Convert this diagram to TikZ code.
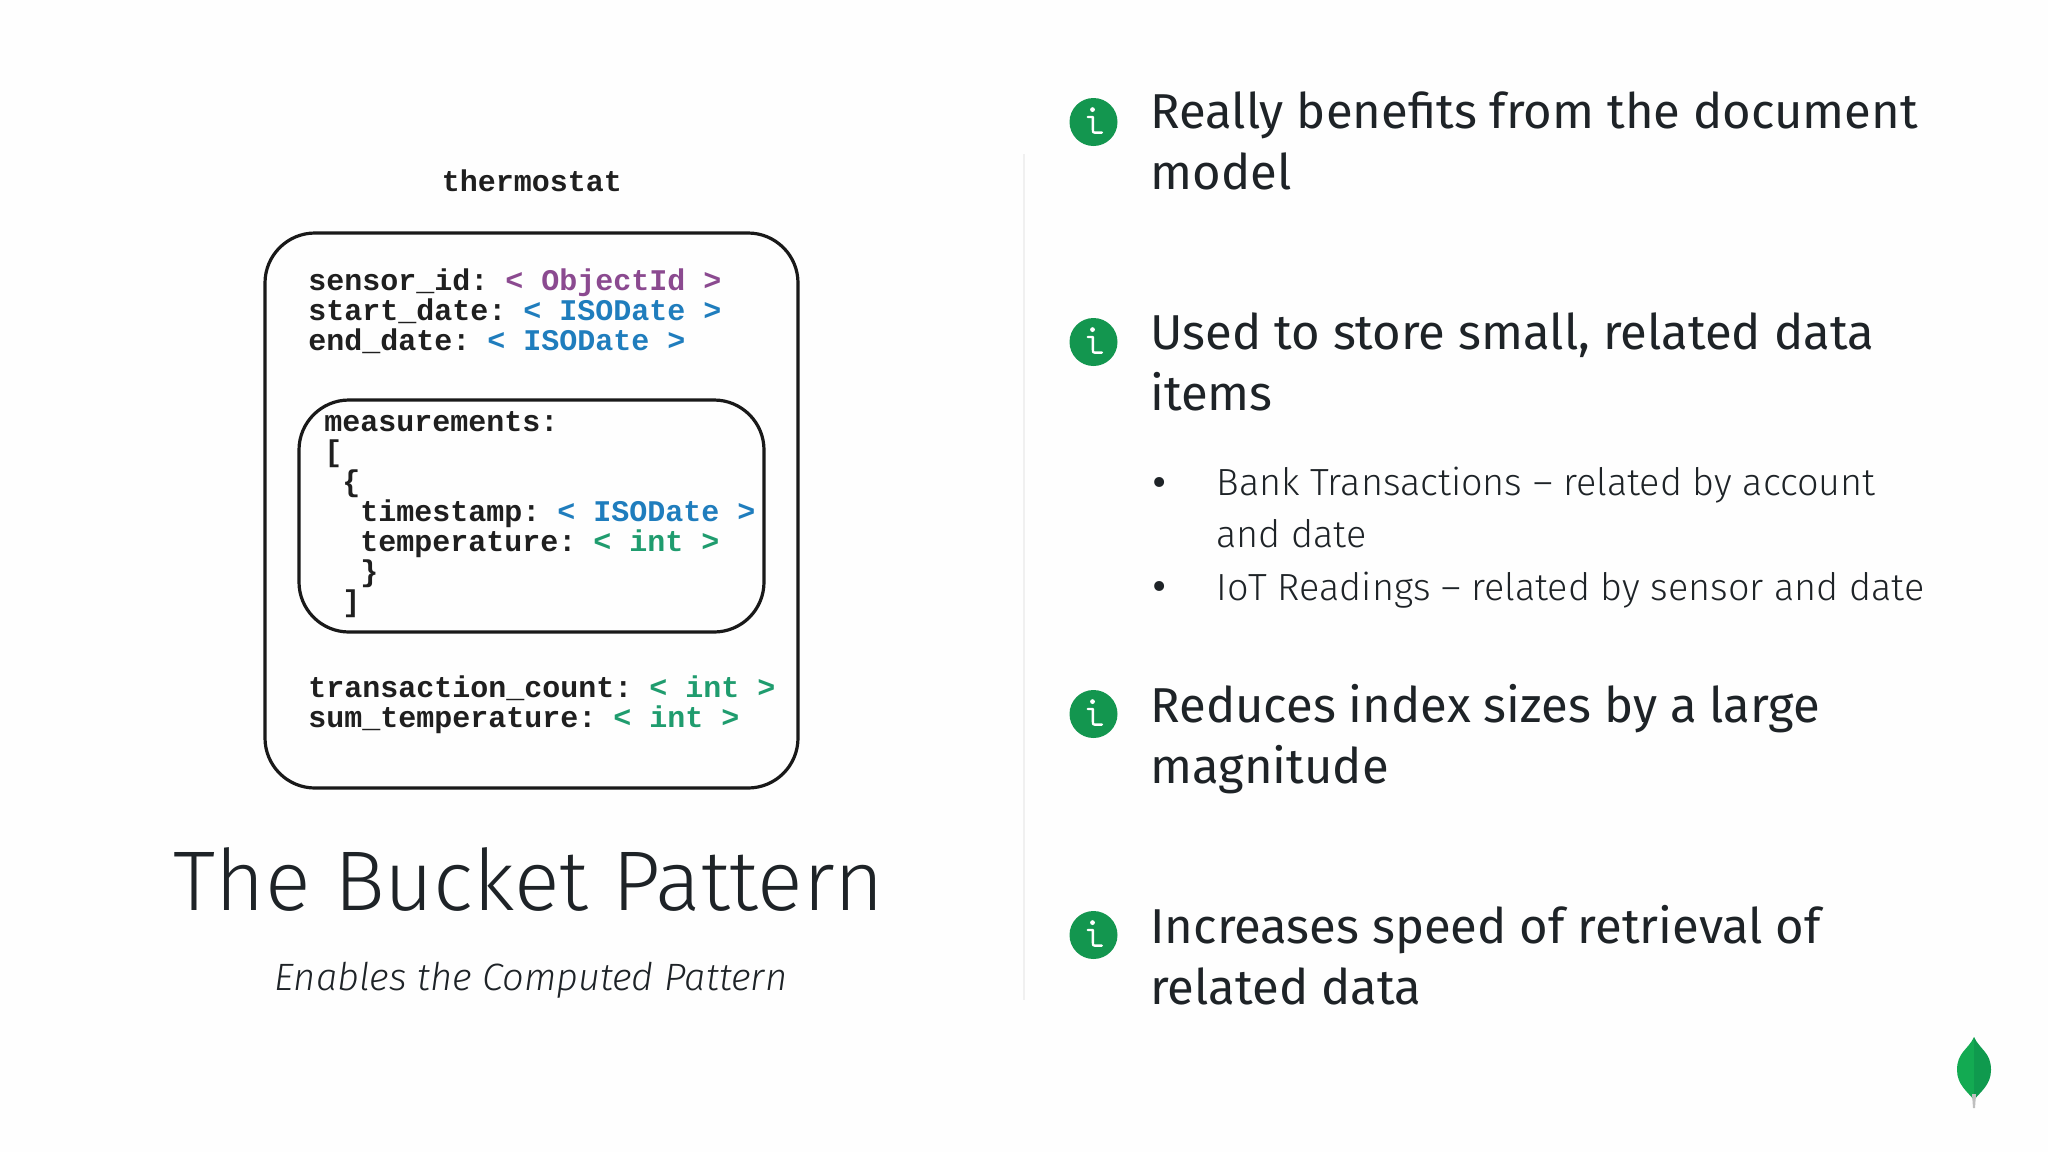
\documentclass[tikz,border=0pt]{standalone}
\usepackage{fontspec}
\setmainfont{Fira Sans}
\newfontfamily\codefont{Liberation Mono}[BoldFont={Liberation Mono Bold}]
\newfontfamily\lightfont{Fira Sans Light}[ItalicFont={Fira Sans Light Italic}]
\definecolor{PageWhite}{HTML}{FEFEFE}
\definecolor{InkDark}{HTML}{1E2327}
\definecolor{LeafGreen}{HTML}{13AA52}
\definecolor{LeafDark}{HTML}{0F9A4E}
\definecolor{BadgeGreen}{HTML}{13964F}
\definecolor{TypePurple}{HTML}{8B4A90}
\definecolor{TypeBlue}{HTML}{1F7DBD}
\definecolor{TypeGreen}{HTML}{1F9C6E}
\newcommand{\oid}[1]{\kern-3.5pt\textcolor{TypePurple}{#1}}
\newcommand{\iso}[1]{\kern-3.5pt\textcolor{TypeBlue}{#1}}
\newcommand{\num}[1]{\kern-3.5pt\textcolor{TypeGreen}{#1}}

\begin{document}
\begin{tikzpicture}[
  x=0.5pt, y=-0.5pt,
  code/.style={anchor=north west, inner sep=0pt, align=left, text=black!88,
               font=\codefont\bfseries\fontsize{15}{15}\selectfont},
  docbox/.style={draw=black!90, line width=1.6pt, rounded corners=25pt, inner sep=0pt},
  headline/.style={anchor=north west, inner sep=0pt, align=left, text=InkDark,
                   font=\fontsize{24.5}{30.5}\selectfont},
  subline/.style={anchor=base west, inner sep=0pt, text=InkDark,
                  font=\lightfont\fontsize{18.9}{20}\selectfont},
  dotmark/.style={anchor=base west, inner sep=0pt, text=InkDark,
                  font=\fontsize{22}{22}\selectfont},
  badge/.style={circle, fill=BadgeGreen, minimum size=24pt, inner sep=0pt},
  glyph/.style={white, line width=1.2pt, line cap=round, line join=round},
]
  \useasboundingbox (0,0) rectangle (2048,1152);
  \fill[PageWhite] (0,0) rectangle (2048,1152);

  % left panel
  \node[code, anchor=base] (thermostat) at (532,191) {thermostat};
  \node[docbox, minimum width=266.5pt, minimum height=277.5pt] (bucket) at (531.5,510.5) {};
  \node[docbox, minimum width=232.5pt, minimum height=116pt] (measure) at (531.5,516) {};

  \node[code] (idfields) at (308,268) {sensor\_id: \oid{< ObjectId >}\\
    start\_date: \iso{< ISODate >}\\
    end\_date: \iso{< ISODate >}};
  \node[code] (readings) at (324,411) {measurements:\\
    {[}\\
    \ \{\\
    \ \ timestamp: \iso{< ISODate >}\\
    \ \ temperature: \num{< int >}\\
    \ \ \}\\
    \ {]}};
  \node[code] (totals) at (308,675) {transaction\_count: \num{< int >}\\
    sum\_temperature: \num{< int >}};

  \node[anchor=base, inner sep=0pt, text=InkDark, font=\lightfont\fontsize{42.35}{44}\selectfont]
    (title) at (529,910) {The Bucket Pattern};
  \node[anchor=base, inner sep=0pt, text=InkDark, font=\lightfont\itshape\fontsize{19.05}{20}\selectfont]
    (subtitle) at (531,990) {Enables the Computed Pattern};

  % divider
  \coordinate (divtop) at (1024,154);
  \coordinate (divbot) at (1024,1000);
  \draw[black!6, line width=1pt] (divtop) -- (divbot);

  % right panel
  \foreach \name/\ypos in {one/122, two/342, three/714, four/935} {
    \node[badge] (badge\name) at (1093.5,\ypos) {};
    \fill[white] ([xshift=-0.5pt,yshift=6.2pt]badge\name.center) circle (1.2pt);
    \draw[glyph] ([xshift=-2.8pt,yshift=2.5pt]badge\name.center)
      -- ([xshift=-0.3pt,yshift=2.5pt]badge\name.center)
      -- ([xshift=-0.3pt,yshift=-3.5pt]badge\name.center)
      .. controls ([xshift=-0.3pt,yshift=-5.3pt]badge\name.center) .. ([xshift=1.5pt,yshift=-5.3pt]badge\name.center)
      -- ([xshift=4.2pt,yshift=-5.3pt]badge\name.center);
  }

  \node[headline] (benefits) at (1150,91) {Really benefits from the document\\model};
  \node[headline] (store) at (1150,312) {Used to store small, related data\\items};
  \node[headline] (index) at (1150,684) {Reduces index sizes by a large\\magnitude};
  \node[headline] (speed) at (1150,905) {Increases speed of retrieval of\\related data};

  \node[dotmark] (dotbank) at (1152,497) {•};
  \node[subline] (bank) at (1216,495) {Bank Transactions – related by account};
  \node[subline] (bankdate) at (1216,547) {and date};
  \node[dotmark] (dotiot) at (1152,601) {•};
  \node[subline] (iot) at (1216,600) {IoT Readings – related by sensor and date};

  % leaf
  \fill[LeafGreen] (1974,1037) .. controls (1968,1050) and (1957,1052) .. (1957,1070)
    .. controls (1957,1085) and (1968,1092) .. (1974,1100) -- cycle;
  \fill[LeafDark] (1974,1037) .. controls (1980,1050) and (1991,1052) .. (1991,1070)
    .. controls (1991,1085) and (1980,1092) .. (1974,1100) -- cycle;
  \fill[black!25] (1972,1094) -- (1976,1094) -- (1975,1108) -- (1973,1108) -- cycle;
\end{tikzpicture}
\end{document}
